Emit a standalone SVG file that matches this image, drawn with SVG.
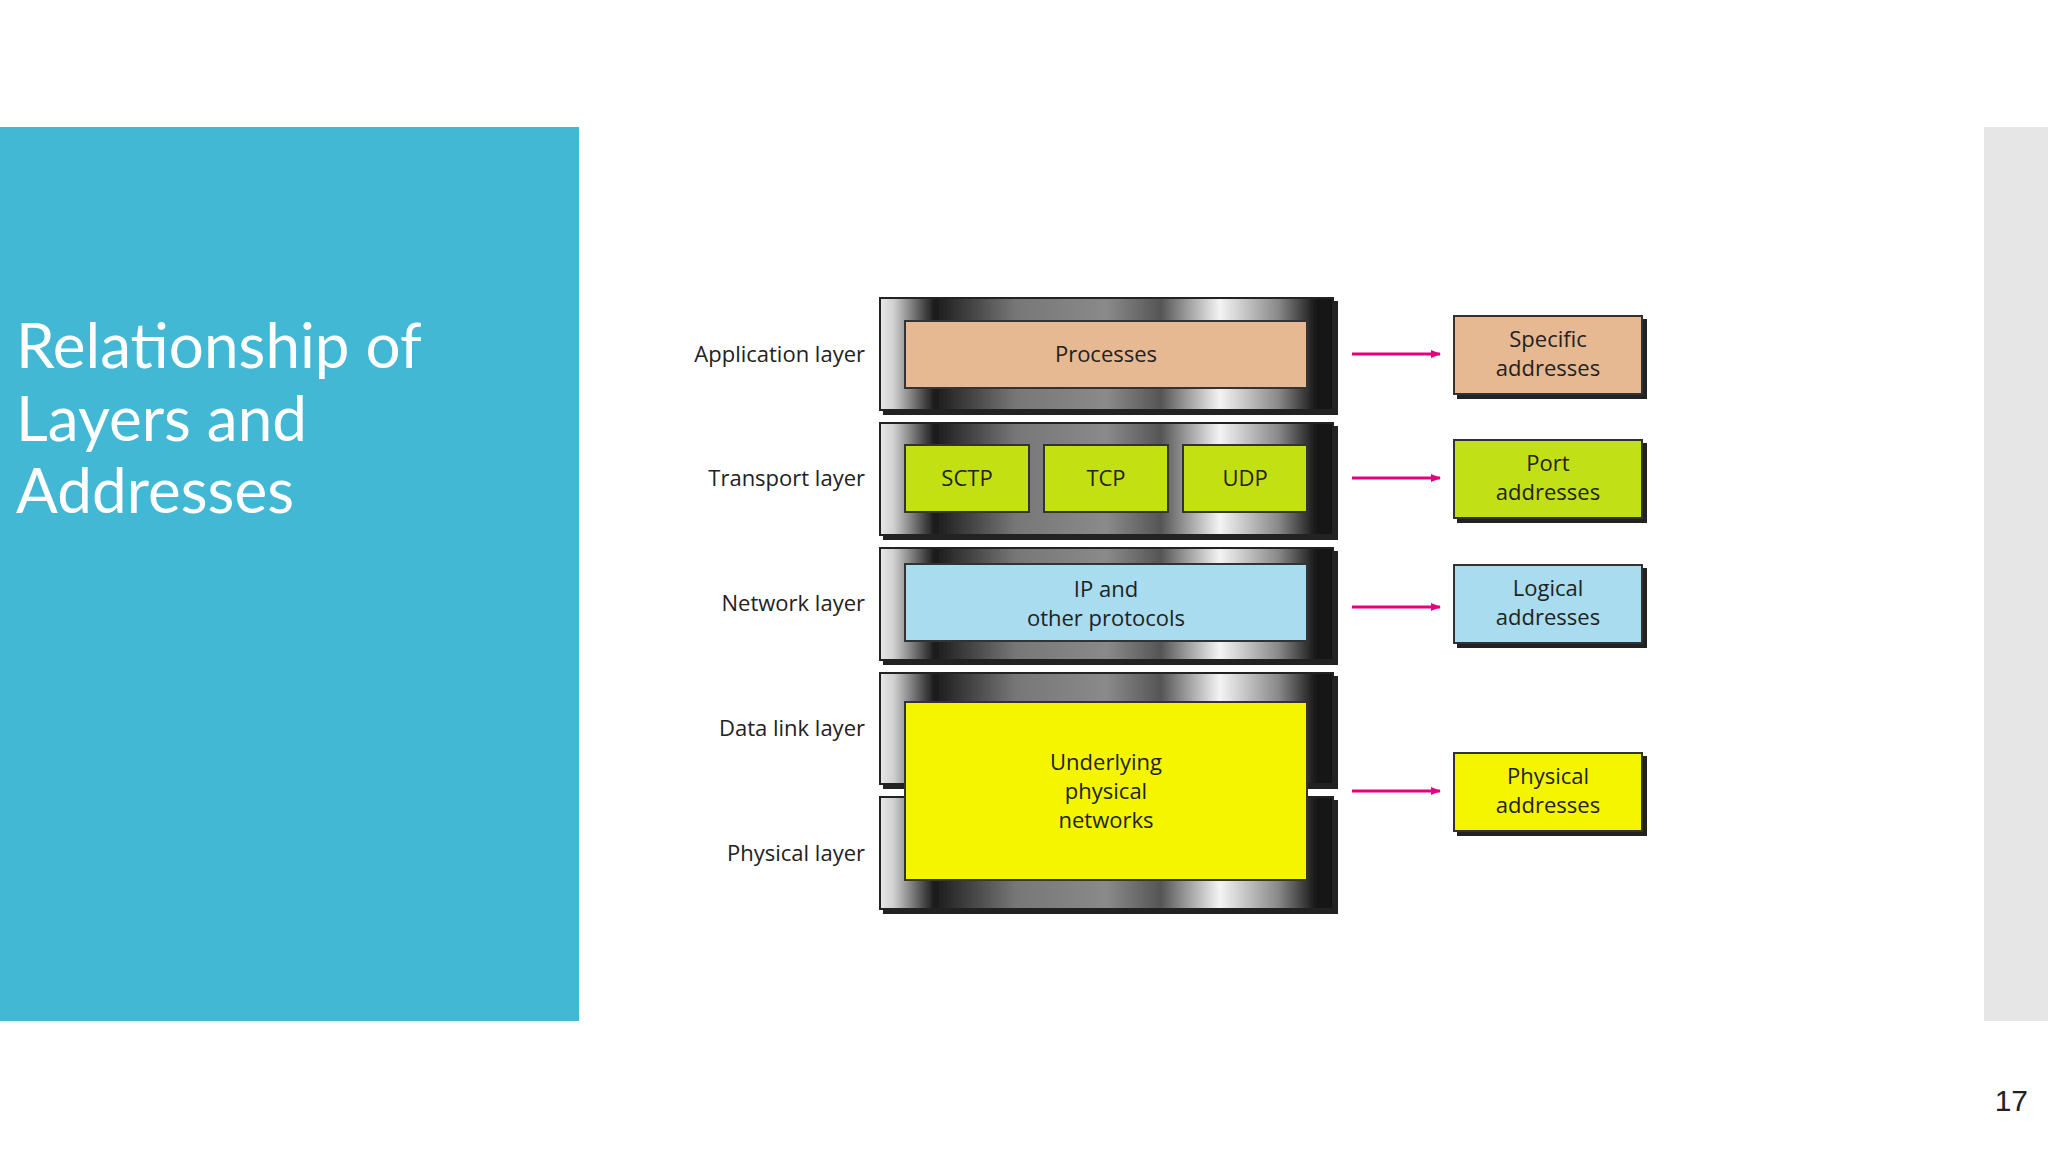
<svg xmlns="http://www.w3.org/2000/svg" width="2048" height="1152" viewBox="0 0 2048 1152">
<defs>
<linearGradient id="metal" x1="0" y1="0" x2="1" y2="0">
<stop offset="0" stop-color="#e8e8e8"/><stop offset="0.03" stop-color="#d0d0d0"/><stop offset="0.12" stop-color="#1a1a1a"/><stop offset="0.3" stop-color="#777"/><stop offset="0.5" stop-color="#8a8a8a"/><stop offset="0.62" stop-color="#555"/><stop offset="0.75" stop-color="#f4f4f4"/><stop offset="0.88" stop-color="#888"/><stop offset="0.96" stop-color="#1a1a1a"/><stop offset="1" stop-color="#111"/>
</linearGradient>
<marker id="ah" markerWidth="10" markerHeight="8" refX="9" refY="4" orient="auto" markerUnits="userSpaceOnUse"><path d="M0,0 L10,4 L0,8 Z" fill="#e6007e"/></marker>
<filter id="sh" x="-5%" y="-5%" width="115%" height="120%"><feOffset dx="4" dy="4" in="SourceAlpha" result="o"/><feFlood flood-color="#222"/><feComposite in2="o" operator="in"/><feMerge><feMergeNode/><feMergeNode in="SourceGraphic"/></feMerge></filter>
</defs>
<style>
.frame{fill:url(#metal);stroke:#222;stroke-width:2;filter:url(#sh)}
.in{stroke:#333;stroke-width:2}
.t{font-family:"Open Sans","Liberation Sans",sans-serif;font-size:22px;fill:#222;text-anchor:middle}
.l{font-family:"Open Sans","Liberation Sans",sans-serif;font-size:22px;fill:#222;text-anchor:end}
.ab{stroke:#333;stroke-width:2;filter:url(#sh)}
.ar{stroke:#e6007e;stroke-width:3;fill:none;marker-end:url(#ah)}
</style>
<rect width="2048" height="1152" fill="#fff"/>
<rect x="0" y="127" width="579" height="894" fill="#42b8d5"/>
<rect x="1984" y="127" width="64" height="894" fill="#e6e6e6"/>
<text font-family="Lato,'Liberation Sans',sans-serif" font-size="62" fill="#fff"><tspan x="16" y="368">Relationship of</tspan><tspan x="16" y="441">Layers and</tspan><tspan x="16" y="513">Addresses</tspan></text>
<text x="2028" y="1111" font-family="'Liberation Sans',sans-serif" font-size="30" fill="#222" text-anchor="end">17</text>

<g id="labels">
<text class="l" x="865" y="362">Application layer</text>
<text class="l" x="865" y="486">Transport layer</text>
<text class="l" x="865" y="611">Network layer</text>
<text class="l" x="865" y="736">Data link layer</text>
<text class="l" x="865" y="861">Physical layer</text>
</g>
<g id="application">
<rect class="frame" x="880" y="298" width="453" height="112"/>
<rect class="in" x="905" y="321" width="402" height="67" fill="#e6b993"/>
<text class="t" x="1106" y="362">Processes</text>
</g>
<g id="transport">
<rect class="frame" x="880" y="423" width="453" height="112"/>
<rect class="in" x="905" y="445" width="124" height="67" fill="#c2e012"/>
<text class="t" x="967" y="486">SCTP</text>
<rect class="in" x="1044" y="445" width="124" height="67" fill="#c2e012"/>
<text class="t" x="1106" y="486">TCP</text>
<rect class="in" x="1183" y="445" width="124" height="67" fill="#c2e012"/>
<text class="t" x="1245" y="486">UDP</text>
</g>
<g id="network">
<rect class="frame" x="880" y="548" width="453" height="112"/>
<rect class="in" x="905" y="564" width="402" height="77" fill="#a8dcee"/>
<text class="t" x="1106" y="597">IP and</text>
<text class="t" x="1106" y="626">other protocols</text>
</g>
<g id="datalink">
<rect class="frame" x="880" y="673" width="453" height="111"/>
<rect class="frame" x="880" y="797" width="453" height="112"/>
<rect class="in" x="905" y="702" width="402" height="178" fill="#f5f500"/>
<text class="t" x="1106" y="770">Underlying</text>
<text class="t" x="1106" y="799">physical</text>
<text class="t" x="1106" y="828">networks</text>
</g>
<g id="connectors">
<line class="ar" x1="1352" y1="354" x2="1440" y2="354"/>
<line class="ar" x1="1352" y1="478" x2="1440" y2="478"/>
<line class="ar" x1="1352" y1="607" x2="1440" y2="607"/>
<line class="ar" x1="1352" y1="791" x2="1440" y2="791"/>
</g>
<g id="specific"><rect class="ab" x="1454" y="316" width="188" height="78" fill="#e6b993"/><text class="t" x="1548" y="347">Specific</text><text class="t" x="1548" y="376">addresses</text></g>
<g id="port"><rect class="ab" x="1454" y="440" width="188" height="78" fill="#c2e012"/><text class="t" x="1548" y="471">Port</text><text class="t" x="1548" y="500">addresses</text></g>
<g id="logical"><rect class="ab" x="1454" y="565" width="188" height="78" fill="#a8dcee"/><text class="t" x="1548" y="596">Logical</text><text class="t" x="1548" y="625">addresses</text></g>
<g id="physical"><rect class="ab" x="1454" y="753" width="188" height="78" fill="#f5f500"/><text class="t" x="1548" y="784">Physical</text><text class="t" x="1548" y="813">addresses</text></g>
</svg>
